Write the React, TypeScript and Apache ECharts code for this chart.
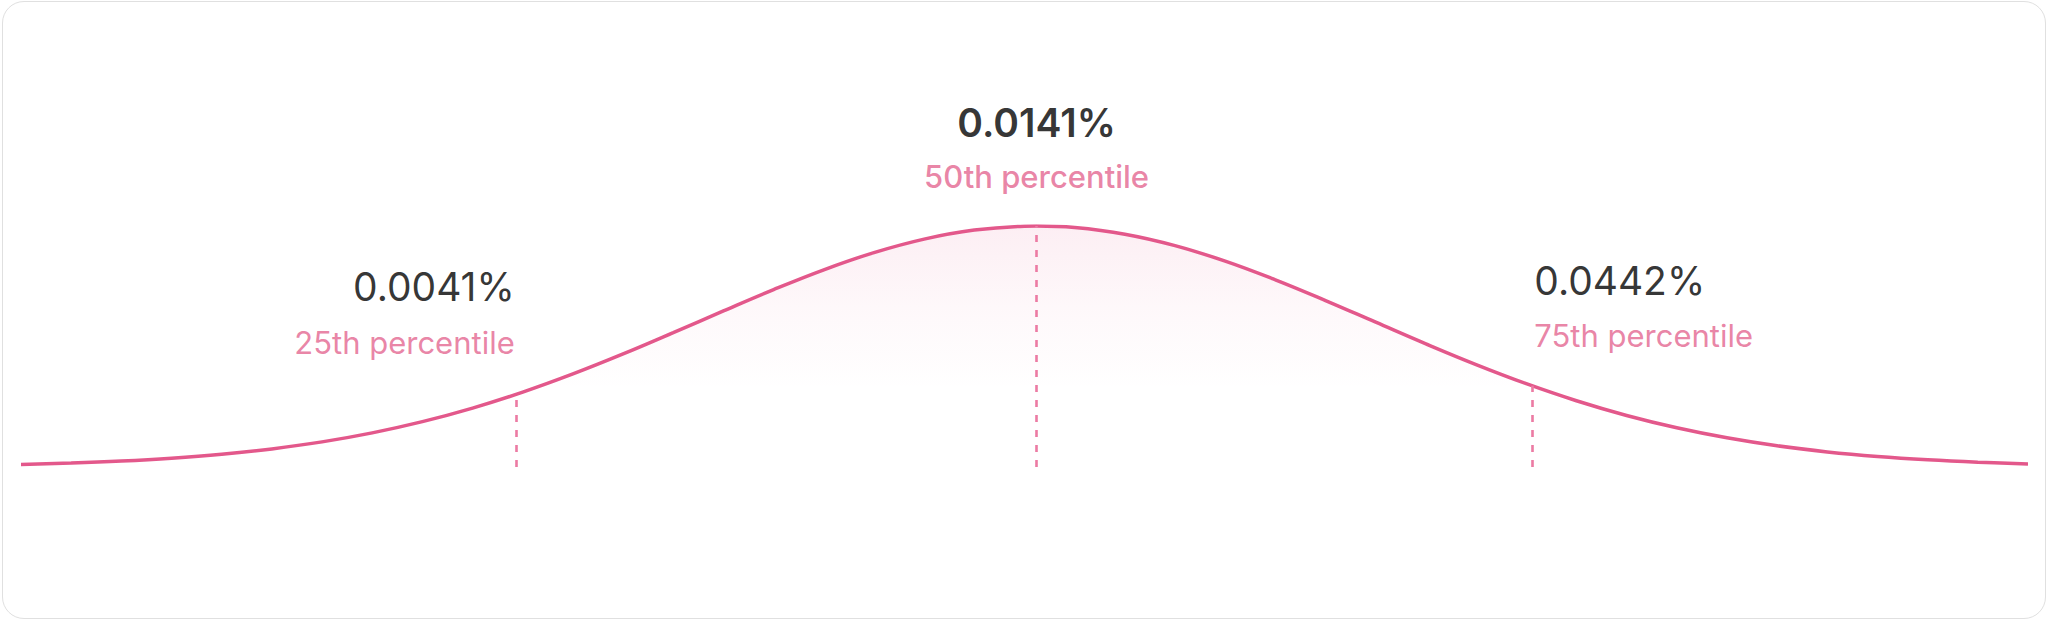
import React, { useEffect, useRef } from "react";
import * as echarts from "echarts";

// Curve sample positions (relative position along the distribution, 0-100)
const curveX = [0, 2.5, 5, 7.5, 10, 12.5, 15, 17.5, 20, 22.5, 25, 27.5, 30, 32.5, 35, 37.5, 40, 42.5, 45, 47.5, 50, 50.6, 52.5, 55, 57.5, 60, 62.5, 65, 67.5, 70, 72.5, 75, 77.5, 80, 82.5, 85, 87.5, 90, 92.5, 95, 97.5, 100];
// Relative density (peak = 100)
const curveY = [1.04, 1.61, 2.45, 3.64, 5.28, 7.5, 10.42, 14.16, 18.81, 24.44, 31.06, 38.6, 46.9, 55.74, 64.78, 73.62, 81.83, 88.95, 94.56, 98.3, 99.94, 100, 99.36, 96.6, 91.86, 85.42, 77.67, 69.07, 60.07, 51.09, 42.5, 34.57, 27.5, 21.39, 16.28, 12.11, 8.81, 6.27, 4.36, 2.97, 1.98, 1.29];

// Percentile markers
const markerX = [24.7, 50.6, 75.3];
const markerY = [30.2, 100, 33.67];
const markerValues = ["0.0041%", "0.0141%", "0.0442%"];
const markerNames = ["25th percentile", "50th percentile", "75th percentile"];

const PINK = "#E3588B";
const PINK_TEXT = "#E3658F";
const PINK_DASH = "#EC7BA3";
const FONT = "Inter, 'Noto Sans', sans-serif";

export default function App() {
  const ref = useRef<HTMLDivElement>(null);

  useEffect(() => {
    if (!ref.current) return;
    const chart = echarts.init(ref.current, undefined, { renderer: "svg" });

    const curve = curveX.map((x, i) => [x, curveY[i]]);
    const aligns = ["right", "center", "left"];
    const dxs = [-2, 0, 2];
    const valueDy = [-108, -104, -105];
    const nameDy = [-52, -50, -50];

    const valuePoints = markerX.map((x, i) => ({
      value: [x, markerY[i]],
      label: {
        show: true,
        formatter: markerValues[i],
        position: [dxs[i], valueDy[i]],
        align: aligns[i],
        verticalAlign: "middle",
        fontSize: 39,
        fontWeight: i === 1 ? 600 : 400,
        color: "#000000",
        fontFamily: FONT,
      },
    }));
    const namePoints = markerX.map((x, i) => ({
      value: [x, markerY[i]],
      label: {
        show: true,
        formatter: markerNames[i],
        position: [dxs[i], nameDy[i]],
        align: aligns[i],
        verticalAlign: "middle",
        fontSize: 31,
        fontWeight: i === 1 ? 500 : 400,
        color: PINK_TEXT,
        fontFamily: FONT,
      },
    }));

    chart.setOption({
      animation: false,
      backgroundColor: "transparent",
      grid: { left: 21, right: 20, top: 226, bottom: 154 },
      xAxis: {
        type: "value",
        min: 0,
        max: 100,
        show: false,
      },
      yAxis: {
        type: "value",
        min: 0,
        max: 100,
        show: false,
      },
      series: [
        {
          type: "line",
          data: curve,
          smooth: 0.4,
          symbol: "none",
          lineStyle: { color: PINK, width: 3.5 },
          areaStyle: {
            color: new echarts.graphic.LinearGradient(0, 0, 0, 1, [
              { offset: 0, color: "rgba(232,96,145,0.15)" },
              { offset: 0.35, color: "rgba(232,96,145,0.06)" },
              { offset: 0.68, color: "rgba(232,96,145,0)" },
              { offset: 1, color: "rgba(232,96,145,0)" },
            ]),
          },
          markLine: {
            silent: true,
            symbol: "none",
            label: { show: false },
            lineStyle: { color: PINK_DASH, width: 2.6, type: [7, 8] },
            data: markerX.map((x, i) => [
              { coord: [x, 0] },
              { coord: [x, markerY[i]] },
            ]),
          },
          z: 2,
        },
        {
          type: "scatter",
          symbolSize: 0,
          data: valuePoints,
          silent: true,
          z: 3,
        },
        {
          type: "scatter",
          symbolSize: 0,
          data: namePoints,
          silent: true,
          z: 3,
        },
      ],
    });

    return () => chart.dispose();
  }, []);

  return (
    <div
      style={{
        position: "fixed",
        left: 0,
        top: 0,
        width: 2048,
        height: 621,
        background: "#ffffff",
      }}
    >
      <div
        style={{
          position: "absolute",
          left: 2,
          top: 1,
          width: 2044,
          height: 618,
          boxSizing: "border-box",
          border: "1.5px solid #e0e0e0",
          borderRadius: 22,
        }}
      />
      <div
        ref={ref}
        style={{ position: "absolute", left: 0, top: 0, width: 2048, height: 621 }}
      />
    </div>
  );
}
